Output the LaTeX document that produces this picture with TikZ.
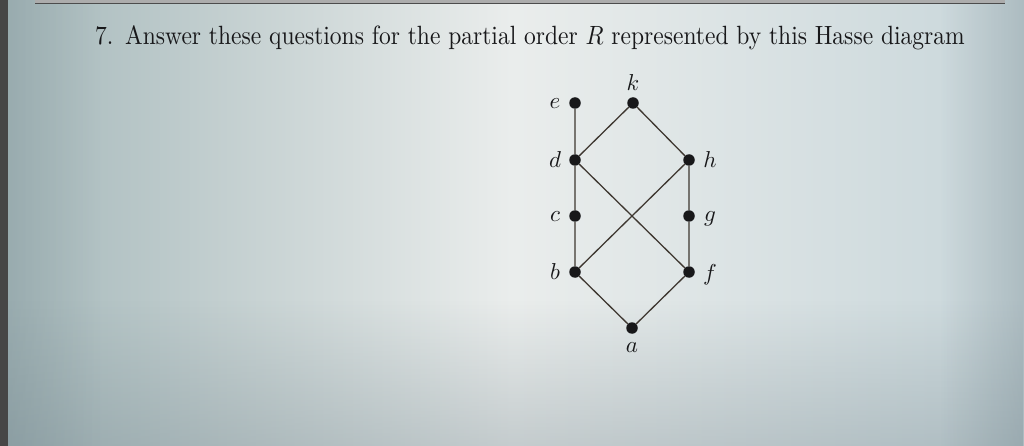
\documentclass[tikz,border=0pt]{standalone}
\usetikzlibrary{fadings}
\definecolor{bgleft}{RGB}{165,184,186}
\definecolor{bgmid}{RGB}{234,237,236}
\definecolor{bgright}{RGB}{200,214,218}
\definecolor{vign}{RGB}{110,128,136}
\definecolor{ink}{RGB}{24,24,26}
\definecolor{edgecol}{RGB}{62,55,48}
\begin{document}
\begin{tikzpicture}[x=1pt,y=-1pt,
  vtx/.style={circle,fill=ink,inner sep=0pt,minimum size=11.5pt},
  lbl/.style={text=ink,inner sep=0pt},
  hedge/.style={draw=edgecol,line width=1.3pt}]
\useasboundingbox (0,0) rectangle (1024,446);
\shade[left color=bgleft,right color=bgright,middle color=bgmid] (0,0) rectangle (1024,446);
\fill[vign,fill opacity=0.3,path fading=north] (0,300) rectangle (1024,446);
\fill[vign,fill opacity=0.3,path fading=west] (940,0) rectangle (1024,446);
\fill[vign,fill opacity=0.25,path fading=east] (0,0) rectangle (100,446);
\fill[black!45!gray] (0,0) rectangle (8,446);
\fill[gray!65] (35,0) rectangle (1005,3);
\draw[black!70,line width=1.4pt] (35,3.7) -- (1005,3.7);
\node[anchor=base west,inner sep=0pt,text=ink] (title) at (95,45)
  {\scalebox{2.35}[2.64]{7.\enspace Answer these questions for the partial order $R$ represented by this Hasse diagram}};
% vertices
\node[vtx] (e) at (575,103) {};
\node[vtx] (k) at (633,103) {};
\node[vtx] (d) at (575,160) {};
\node[vtx] (h) at (689,160) {};
\node[vtx] (c) at (575,216) {};
\node[vtx] (g) at (689,216) {};
\node[vtx] (b) at (575,272) {};
\node[vtx] (f) at (689,272) {};
\node[vtx] (a) at (632,328) {};
% edges
\draw[hedge] (e) -- (d) -- (c) -- (b) -- (a) -- (f) -- (g) -- (h) -- (k) -- (d) -- (f);
\draw[hedge] (h) -- (b);
% labels
\node[lbl] (le) at (555,104) {\scalebox{2.3}{$e$}};
\node[lbl] (lk) at (633,83) {\scalebox{2.3}{$k$}};
\node[lbl] (ld) at (555,160) {\scalebox{2.3}{$d$}};
\node[lbl] (lh) at (710,160) {\scalebox{2.3}{$h$}};
\node[lbl] (lc) at (555,217) {\scalebox{2.3}{$c$}};
\node[lbl] (lg) at (710,219) {\scalebox{2.3}{$g$}};
\node[lbl] (lb) at (555,272) {\scalebox{2.3}{$b$}};
\node[lbl] (lf) at (710,275) {\scalebox{2.3}{$f$}};
\node[lbl] (la) at (632,348) {\scalebox{2.3}{$a$}};
\end{tikzpicture}
\end{document}
